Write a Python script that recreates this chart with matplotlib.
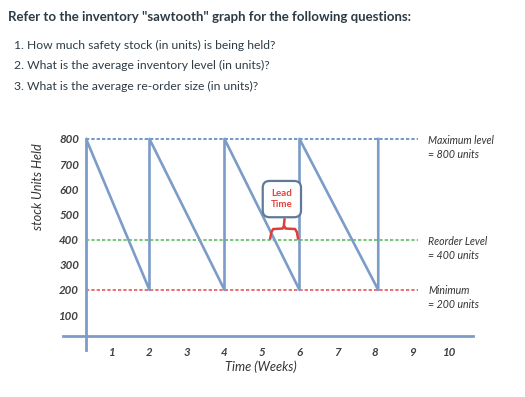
import matplotlib.pyplot as plt

# sawtooth inventory path (weeks, units)
weeks = [0.31, 2.0, 2.0, 4.0, 4.0, 6.0, 6.0, 8.1, 8.1]
units = [800, 200, 800, 200, 800, 200, 800, 200, 800]

max_level = 800
reorder_level = 400
min_level = 200

x_ticks = [1, 2, 3, 4, 5, 6, 7, 8, 9, 10]
y_ticks = [100, 200, 300, 400, 500, 600, 700, 800]

questions = [
    "1. How much safety stock (in units) is being held?",
    "2. What is the average inventory level (in units)?",
    "3. What is the average re-order size (in units)?",
]

line_col = "#7c9cc8"
txt_col = "#2d3b45"

plt.rcParams['font.family'] = ['Lato', 'DejaVu Sans']

fig = plt.figure(figsize=(5.25, 3.97), dpi=100)
fig.text(8 / 525, 1 - 17 / 397, 'Refer to the inventory "sawtooth" graph for the following questions:',
         fontsize=9.5, fontweight='bold', color=txt_col, va='center')
for i, q in enumerate(questions):
    fig.text(14 / 525, 1 - (45 + 20.5 * i) / 397, q, fontsize=8.7, color=txt_col, va='center')

ax = fig.add_axes([86 / 525, 1 - 340.3 / 397, 394 / 525, 210.3 / 397])
ax.set_xlim(0.307, 10.813)
ax.set_ylim(0, 835.5)
for s in ax.spines.values():
    s.set_visible(False)

x_end = 9.16
ax.plot([0.307, x_end], [max_level] * 2, color="#5b86c0", lw=1.2, ls=(0, (2, 1.2)))
ax.plot([0.307, x_end], [reorder_level] * 2, color="#5cbf5c", lw=1.2, ls=(0, (2, 1.2)))
ax.plot([0.307, x_end], [min_level] * 2, color="#e35a5a", lw=1.2, ls=(0, (2, 1.2)))

# axes lines
ax.plot([-0.31, 10.63], [17, 17], color=line_col, lw=2, clip_on=False)
ax.plot([0.307, 0.307], [800, -38], color=line_col, lw=2, clip_on=False)

ax.plot(weeks, units, color=line_col, lw=1.9)

# lead time brace and box
ax.plot([5.22, 5.25, 5.3, 5.55, 5.58, 5.6], [405, 430, 442, 444, 452, 480],
        color="#e03c3c", lw=1.8)
ax.plot([5.96, 5.93, 5.88, 5.63, 5.6], [405, 430, 442, 444, 452], color="#e03c3c", lw=1.8)
ax.text(5.53, 561, "Lead\nTime", color="#e8413c", fontsize=7, fontweight='bold',
        ha='center', va='center', linespacing=1.25,
        bbox=dict(boxstyle='round,pad=0.85,rounding_size=0.7', fc='white', ec='#5f7a99', lw=1.6))

ax.set_xticks(x_ticks)
ax.set_xticklabels([str(t) for t in x_ticks], fontsize=8.3, fontstyle='italic',
                   fontweight='bold', color='#404040')
ax.set_yticks(y_ticks)
ax.set_yticklabels([str(t) for t in y_ticks], fontsize=8.3, fontstyle='italic',
                   fontweight='bold', color='#404040')
ax.tick_params(axis='both', length=0)
ax.tick_params(axis='x', pad=5)
ax.tick_params(axis='y', pad=5)

side_kw = dict(fontsize=7.6, fontstyle='italic', color='#333333', va='center', linespacing=1.35)
ax.text(9.43, 765, "Maximum level\n= 800 units", **side_kw)
ax.text(9.43, 365, "Reorder Level\n= 400 units", **side_kw)
ax.text(9.43, 170, "Minimum\n= 200 units", **side_kw)

fig.text(38 / 525, 1 - 187 / 397, "stock Units Held", rotation=90, fontsize=9.2,
         fontstyle='italic', color='#333333', ha='center', va='center')
fig.text(261 / 525, 1 - 367 / 397, "Time (Weeks)", fontsize=9.3, fontstyle='italic',
         color='#333333', ha='center', va='center')

fig.savefig("out.png", dpi=100)
